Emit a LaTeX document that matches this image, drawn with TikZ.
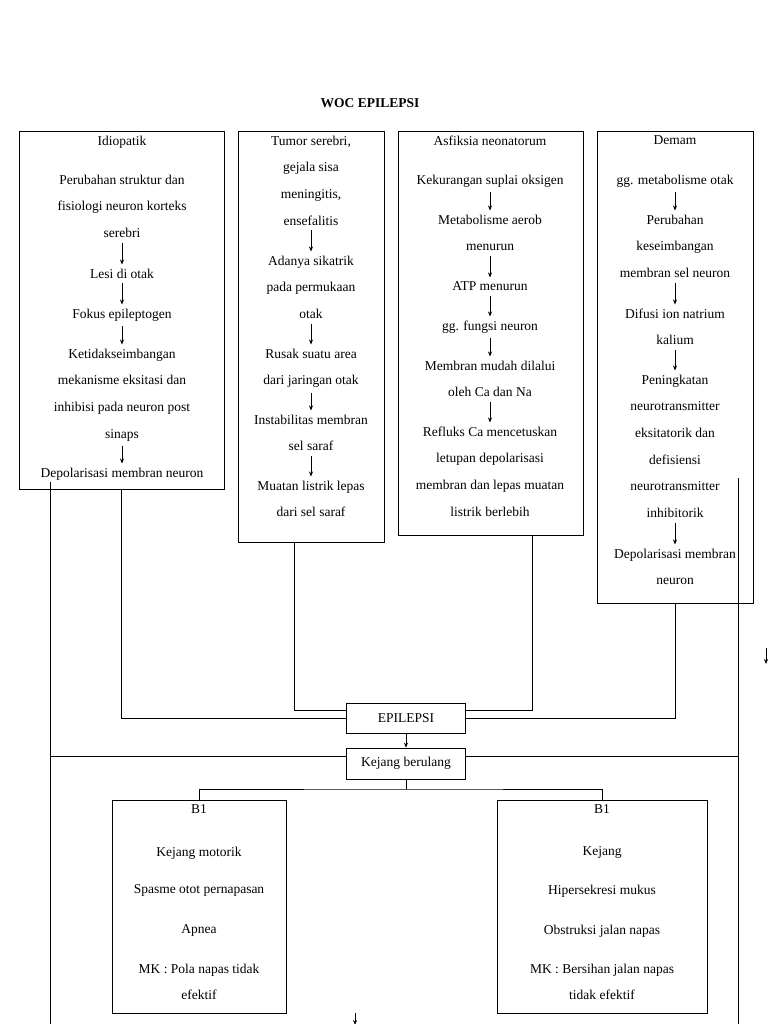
\documentclass[tikz,border=0pt]{standalone}
\usepackage{fontspec}
\setmainfont{Liberation Serif}
\usetikzlibrary{arrows.meta}
\begin{document}
\begin{tikzpicture}[x=1pt,y=-1pt,
  t/.style={font=\fontsize{13.5}{26.7}\selectfont,align=center,inner sep=0pt,anchor=north},
  box/.style={draw,line width=0.7pt,fill=white,inner sep=0pt},
  ln/.style={line width=0.7pt},
  arr/.style={line width=0.7pt,-{Stealth[length=5pt,width=4pt]},shorten <=5pt,shorten >=4pt}]
\useasboundingbox (0,0) rectangle (768,1024);
\newcommand\tx[4]{\node[t] (#1) at (#2,{#3-8.5}) {#4};}
% long side lines
\coordinate (L1) at (50,482); \coordinate (L2) at (50,1024);
\coordinate (R1) at (738,478); \coordinate (R2) at (738,1024);
\coordinate (HL) at (50,756); \coordinate (HR) at (738,756);
% boxes
\node[box,minimum width=205,minimum height=358] (idio) at (121.5,310) {};
\node[box,minimum width=146,minimum height=411] (tum) at (311,336.5) {};
\node[box,minimum width=185,minimum height=404] (asf) at (490.5,333) {};
\node[box,minimum width=156,minimum height=472] (dem) at (675,367) {};
\draw[ln] (L1) -- (L2); \draw[ln] (R1) -- (R2); \draw[ln] (HL) -- (HR);
\node[font=\bfseries\fontsize{13.5}{16}\selectfont] (title) at (370,103) {WOC EPILEPSI};
% Idiopatik
\tx{i0}{122}{144}{Idiopatik}
\tx{i1}{122}{183}{Perubahan struktur dan\\fisiologi neuron korteks\\serebri}
\tx{i2}{122}{277}{Lesi di otak}
\tx{i3}{122}{317}{Fokus epileptogen}
\tx{i4}{122}{357}{Ketidakseimbangan\\mekanisme eksitasi dan\\inhibisi pada neuron post\\sinaps}
\tx{i5}{122}{476}{Depolarisasi membran neuron}
\draw[arr] (i1) -- (i2); \draw[arr] (i2) -- (i3); \draw[arr] (i3) -- (i4); \draw[arr] (i4) -- (i5);
% Tumor
\tx{t0}{311}{144}{Tumor serebri,\\gejala sisa\\meningitis,\\ensefalitis}
\tx{t1}{311}{264}{Adanya sikatrik\\pada permukaan\\otak}
\tx{t2}{311}{357}{Rusak suatu area\\dari jaringan otak}
\tx{t3}{311}{423}{Instabilitas membran\\sel saraf}
\tx{t4}{311}{489}{Muatan listrik lepas\\dari sel saraf}
\draw[arr] (t0) -- (t1); \draw[arr] (t1) -- (t2); \draw[arr] (t2) -- (t3); \draw[arr] (t3) -- (t4);
% Asfiksia
\tx{a0}{490}{144}{Asfiksia neonatorum}
\tx{a1}{490}{183}{Kekurangan suplai oksigen}
\tx{a2}{490}{223}{Metabolisme aerob\\menurun}
\tx{a3}{490}{290}{ATP menurun}
\tx{a4}{490}{329}{gg. fungsi neuron}
\tx{a5}{490}{369}{Membran mudah dilalui\\oleh Ca dan Na}
\tx{a6}{490}{435}{Refluks Ca mencetuskan\\letupan depolarisasi\\membran dan lepas muatan\\listrik berlebih}
\draw[arr] (a1) -- (a2); \draw[arr] (a2) -- (a3); \draw[arr] (a3) -- (a4); \draw[arr] (a4) -- (a5); \draw[arr] (a5) -- (a6);
% Demam
\tx{d0}{675}{144}{Demam}
\tx{d1}{675}{183}{gg. metabolisme otak}
\tx{d2}{675}{223}{Perubahan\\keseimbangan\\membran sel neuron}
\tx{d3}{675}{317}{Difusi ion natrium\\kalium}
\tx{d4}{675}{383}{Peningkatan\\neurotransmitter\\eksitatorik dan\\defisiensi\\neurotransmitter\\inhibitorik}
\tx{d5}{675}{557}{Depolarisasi membran\\neuron}
\draw[arr] (d1) -- (d2); \draw[arr] (d2) -- (d3); \draw[arr] (d3) -- (d4); \draw[arr] (d4) -- (d5);
\draw[ln] (R1) -- (R2);
% center
\node[box,minimum width=119,minimum height=30,font=\fontsize{13.5}{16}\selectfont] (epi) at (406,718) {EPILEPSI};
\node[box,minimum width=119,minimum height=31,font=\fontsize{13.5}{16}\selectfont] (kej) at (406,763.5) {Kejang berulang};
\draw[ln] (idio.south) |- (epi.west);
\draw[ln] (tum.south -| 294,0) |- ([yshift=8pt]epi.west);
\draw[ln] (asf.south -| 532,0) |- ([yshift=8pt]epi.east);
\draw[ln] (dem.south) |- (epi.east);
\draw[line width=0.7pt,-{Stealth[length=5pt,width=4pt]}] (epi) -- (kej);
% B1 boxes
\node[box,minimum width=174,minimum height=213] (b1) at (199,906.5) {};
\node[box,minimum width=210,minimum height=213] (b2) at (602,906.5) {};
\coordinate (br) at (406,789);
\draw[ln] (kej.south) -- (br);
\draw[ln] (b1.north) |- (br) -| (b2.north);
\tx{l0}{199}{813}{B1}
\tx{l1}{199}{855}{Kejang motorik}
\tx{l2}{199}{893}{Spasme otot pernapasan}
\tx{l3}{199}{933}{Apnea}
\tx{l4}{199}{972}{MK : Pola napas tidak\\efektif}
\tx{r0}{602}{813}{B1}
\tx{r1}{602}{855}{Kejang}
\tx{r2}{602}{893}{Hipersekresi mukus}
\tx{r3}{602}{933}{Obstruksi jalan napas}
\tx{r4}{602}{972}{MK : Bersihan jalan napas\\tidak efektif}
\coordinate (ba) at (355,1013); \coordinate (bb) at (355,1025);
\draw[line width=0.7pt,-{Stealth[length=5pt,width=4pt]}] (ba) -- (bb);
\coordinate (ra) at (766,648); \coordinate (rb) at (766,664);
\draw[line width=0.7pt,-{Stealth[length=5pt,width=4pt]}] (ra) -- (rb);
\end{tikzpicture}
\end{document}
